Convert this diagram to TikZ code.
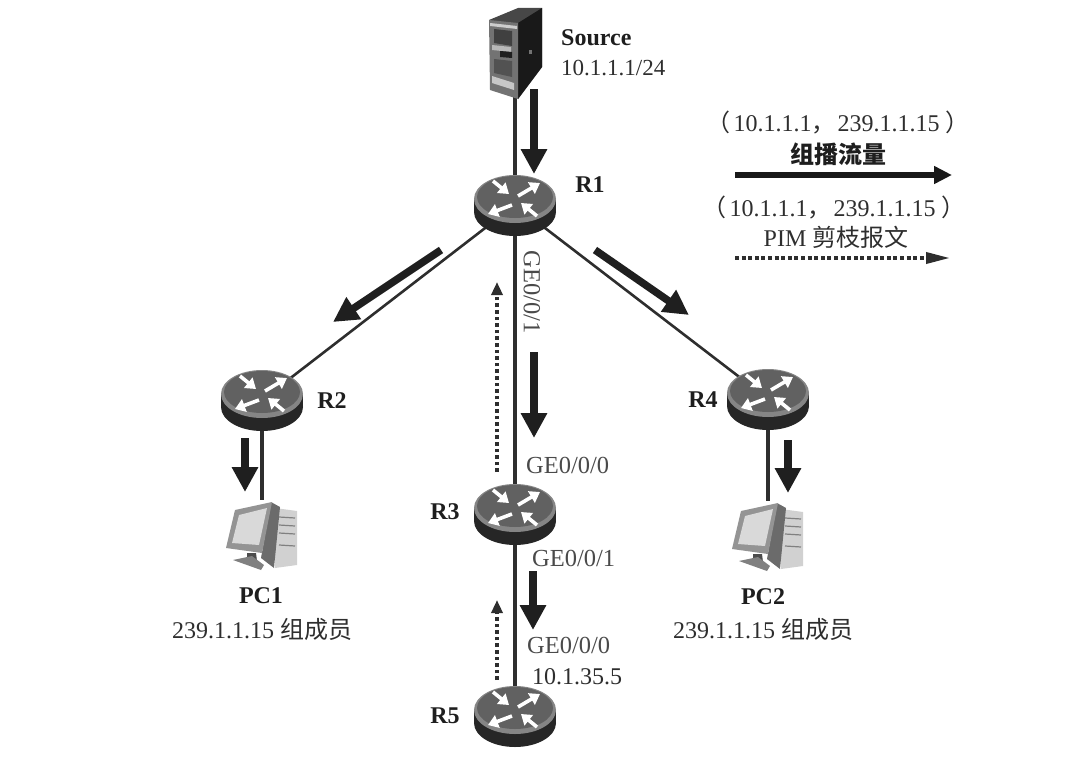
\documentclass[tikz,border=0pt]{standalone}
\usepackage{fontspec}
\setmainfont{Liberation Serif}
\newfontfamily\cjk{Noto Sans CJK SC}
\usetikzlibrary{arrows.meta,shapes.geometric}
\definecolor{ink}{HTML}{2E2E2E}
\definecolor{bold}{HTML}{1E1E1E}
\definecolor{soft}{HTML}{4A4A4A}
\tikzset{
  rtr/.style={ellipse,minimum width=82pt,minimum height=62pt,inner sep=0pt},
  hostbox/.style={rectangle,minimum width=62pt,minimum height=70pt,inner sep=0pt},
  link/.style={draw=ink,line width=3.4pt},
  dlink/.style={draw=ink,line width=2.6pt},
  flow/.style={draw=black!88,line width=7.5pt,-{Triangle[length=25pt,width=25pt]}},
  prune/.style={draw=ink,line width=3.6pt,dash pattern=on 3.6pt off 3pt,-{Triangle[length=13pt,width=11pt]}},
  lab/.style={inner sep=0pt,text=ink,font=\fontsize{24}{26}\selectfont},
  blab/.style={inner sep=0pt,text=bold,font=\fontsize{24}{26}\selectfont\bfseries},
  glab/.style={inner sep=0pt,text=soft,font=\fontsize{24.5}{26}\selectfont},
}
\newcommand{\routerat}[1]{%
  \begin{scope}[shift={(#1)}]
    \fill[black!85] (0,7) ellipse [x radius=41,y radius=24];
    \fill[black!85] (-41,-6) rectangle (41,7);
    \fill[black!48] (0,-6) ellipse [x radius=41,y radius=24];
    \fill[black!62] (0,-8) ellipse [x radius=38,y radius=21];
    \foreach \a/\b/\c/\d in {3/-9/25/-22, -3/0/-27/9, -22/-24/-6/-11, 22/11/6/-2}
      \draw[white,line width=3.6pt,-{Triangle[length=10pt,width=13pt]}] (\a,\b) -- (\c,\d);
  \end{scope}}
\newcommand{\pcat}[1]{%
  \begin{scope}[shift={(#1)}]
    \fill[black!18] (13,-27) -- (35,-24) -- (35,30) -- (13,33) -- cycle;
    \foreach \y in {-18,-10,-2,10} \draw[black!50,line width=1.2pt] (17,\y) -- (33,\y+1);
    \fill[black!58] (9,-33) -- (18,-28) -- (12,33) -- (-1,23) -- cycle;
    \fill[black!42] (-36,13) -- (-27,-25) -- (10,-33) -- (0,18) -- cycle;
    \fill[black!15] (-30,8) -- (-23,-20) -- (5,-27) -- (-3,10) -- cycle;
    \fill[black!70] (-15,18) -- (-6,18) -- (-5,26) -- (-15,24) -- cycle;
    \fill[black!50] (-29,25) -- (-10,21) -- (2,30) -- (-1,35) -- cycle;
  \end{scope}}
\begin{document}
\begin{tikzpicture}[x=1pt,y=-1pt]
\useasboundingbox (0,0) rectangle (1073,760);

% anchors for the connectors
\node[hostbox,minimum width=54pt,minimum height=84pt] (src) at (515,55) {};
\node[rtr] (r1) at (515,205) {};
\node[rtr] (r2) at (262,400) {};
\node[rtr] (r3) at (515,514) {};
\node[rtr] (r4) at (768,399) {};
\node[rtr] (r5) at (515,716) {};
\node[hostbox] (pc1) at (262,535) {};
\node[hostbox] (pc2) at (768,536) {};

% links
\draw[link] (src.south) -- (r1.center);
\draw[dlink] (r1.center) -- (r2.center);
\draw[link] (r1.center) -- (r3.center);
\draw[dlink] (r1.center) -- (r4.center);
\draw[link] (r3.center) -- (r5.center);
\draw[link] (r2.center) -- (pc1.north);
\draw[link] (r4.center) -- (pc2.north);

% devices
\begin{scope}[shift={(src.center)}]
  \fill[black!72] (-26,-35) -- (3,-47) -- (27,-47) -- (27,12) -- (3,44) -- cycle;
  \fill[black!90] (3,-32) -- (27,-47) -- (27,12) -- (3,44) -- cycle;
  \fill[black!55] (-26,-35) -- (3,-32) -- (3,44) -- (-25,35) -- cycle;
  \fill[black!20] (-25,-32) -- (2,-29) -- (2,-26) -- (-25,-29) -- cycle;
  \fill[black!75] (-21,-26) -- (-3,-24) -- (-3,-9) -- (-21,-12) -- cycle;
  \fill[black!28] (-23,-10) -- (-4,-8) -- (-4,-3) -- (-23,-5) -- cycle;
  \fill[black!88] (-15,-4) -- (-3,-3) -- (-3,3) -- (-15,2) -- cycle;
  \fill[black!22] (-23,21) -- (-1,28) -- (-1,35) -- (-23,28) -- cycle;
  \fill[black!68] (-21,4) -- (-3,6) -- (-3,22) -- (-21,18) -- cycle;
  \fill[black!55] (14,-5) rectangle (17,-1);
\end{scope}
\routerat{r1.center}
\routerat{r2.center}
\routerat{r3.center}
\routerat{r4.center}
\routerat{r5.center}
\pcat{pc1.center}
\pcat{pc2.center}

% flow arrow ends
\coordinate (a1s) at (534,89);   \coordinate (a1e) at (534,174);
\coordinate (a2s) at (441,250);  \coordinate (a2e) at (333,322);
\coordinate (a3s) at (595,250);  \coordinate (a3e) at (689,315);
\coordinate (a4s) at (534,352);  \coordinate (a4e) at (534,438);
\coordinate (a5s) at (245,438);  \coordinate (a5e) at (245,492);
\coordinate (a6s) at (788,440);  \coordinate (a6e) at (788,493);
\coordinate (a7s) at (533,571);  \coordinate (a7e) at (533,630);
\coordinate (p1s) at (497,472);  \coordinate (p1e) at (497,282);
\coordinate (p2s) at (497,680);  \coordinate (p2e) at (497,600);
\coordinate (l1s) at (735,175);  \coordinate (l1e) at (952,175);
\coordinate (l2s) at (735,258);  \coordinate (l2e) at (950,258);

\foreach \n in {a1,a2,a3,a4,a5,a6,a7} \draw[flow] (\n s) -- (\n e);
\draw[prune] (p1s) -- (p1e);
\draw[prune] (p2s) -- (p2e);
\draw[draw=black!90,line width=5.5pt,-{Triangle[length=18pt,width=17pt]}] (l1s) -- (l1e);
\draw[draw=ink,line width=3.6pt,dash pattern=on 4pt off 2.6pt,-{Triangle[length=24pt,width=11pt]}] (l2s) -- (l2e);

% labels
\node[blab,anchor=west] (tsrc) at (561,38) {Source};
\node[lab,anchor=west,font=\fontsize{23}{25}\selectfont] (tsip) at (561,68) {10.1.1.1/24};
\node[blab] (tr1) at (590,185) {R1};
\node[blab] (tr2) at (332,401) {R2};
\node[blab] (tr3) at (445,512) {R3};
\node[blab] (tr4) at (703,400) {R4};
\node[blab] (tr5) at (445,716) {R5};
\node[blab] (tpc1) at (261,596) {PC1};
\node[lab] (tm1) at (262,629) {239.1.1.15 {\cjk 组成员}};
\node[blab] (tpc2) at (763,597) {PC2};
\node[lab] (tm2) at (763,629) {239.1.1.15 {\cjk 组成员}};
\node[glab,rotate=-90] (g1) at (532,292) {GE0/0/1};
\node[glab,anchor=west] (g2) at (526,465) {GE0/0/0};
\node[glab,anchor=west] (g3) at (532,558) {GE0/0/1};
\node[glab,anchor=west] (g4) at (527,645) {GE0/0/0};
\node[lab,anchor=west] (g5) at (532,677) {10.1.35.5};
\node[lab] (k1) at (838,123) {{\cjk （}\kern3pt 10.1.1.1{\cjk ，}\kern2pt 239.1.1.15\kern6pt{\cjk ）}};
\node[blab] (k2) at (838,154) {\cjk\bfseries 组播流量};
\node[lab] (k3) at (834,208) {{\cjk （}\kern3pt 10.1.1.1{\cjk ，}\kern2pt 239.1.1.15\kern6pt{\cjk ）}};
\node[lab] (k4) at (836,237) {PIM {\cjk 剪枝报文}};
\end{tikzpicture}
\end{document}
